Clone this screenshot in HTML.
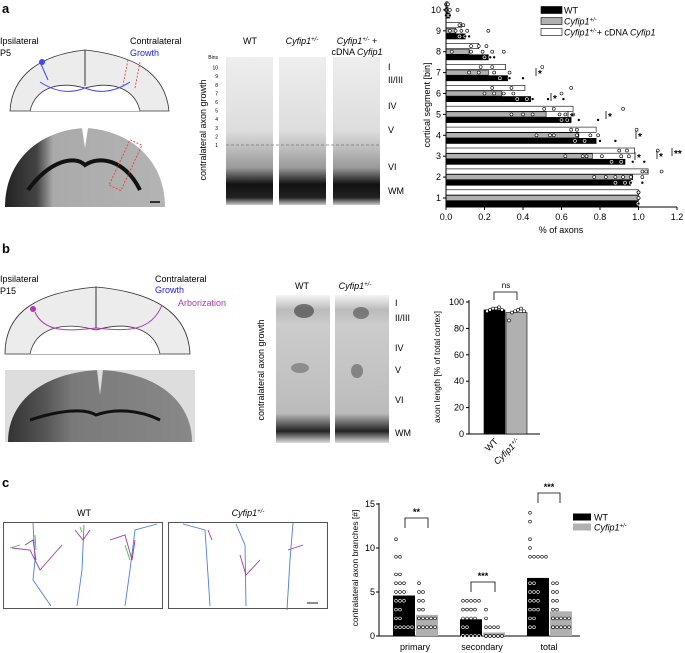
<!DOCTYPE html>
<html><head><meta charset="utf-8"><style>
body{margin:0;background:#fff}
svg{display:block;font-family:"Liberation Sans",Arial,sans-serif}
</style></head><body>
<svg id="fig" width="685" height="653" viewBox="0 0 685 653" xmlns="http://www.w3.org/2000/svg">
<defs>
<linearGradient id="stripA" x1="0" y1="0" x2="0" y2="1">
<stop offset="0" stop-color="#eee"/><stop offset="0.5" stop-color="#ddd"/><stop offset="0.75" stop-color="#999"/><stop offset="0.86" stop-color="#111"/><stop offset="0.95" stop-color="#222"/><stop offset="1" stop-color="#ccc"/></linearGradient>
<linearGradient id="stripB" x1="0" y1="0" x2="0" y2="1">
<stop offset="0" stop-color="#f4f4f4"/><stop offset="0.1" stop-color="#bbb"/><stop offset="0.2" stop-color="#ccc"/><stop offset="0.5" stop-color="#c4c4c4"/><stop offset="0.8" stop-color="#bbb"/><stop offset="0.92" stop-color="#222"/><stop offset="1" stop-color="#ddd"/></linearGradient>
<linearGradient id="photoA" x1="0" y1="0" x2="1" y2="0">
<stop offset="0" stop-color="#222"/><stop offset="0.2" stop-color="#444"/><stop offset="0.3" stop-color="#aaa"/><stop offset="1" stop-color="#b4b4b4"/></linearGradient>
<linearGradient id="photoB" x1="0" y1="0" x2="1" y2="0">
<stop offset="0" stop-color="#333"/><stop offset="0.2" stop-color="#555"/><stop offset="0.35" stop-color="#7a7a7a"/><stop offset="1" stop-color="#888"/></linearGradient>
</defs>

<!-- Panel a -->
<text x="2" y="13" font-size="13" font-weight="bold">a</text>
<text x="0" y="44" font-size="9">Ipsilateral</text>
<text x="0" y="56" font-size="9">P5</text>
<text x="130" y="44" font-size="9">Contralateral</text>
<text x="130" y="56" font-size="9" fill="#2222ee">Growth</text>
<g>
<path d="M10,111 C12,75 40,55 85,50 C130,55 165,70 169,111 Z" fill="#ececec" stroke="#333" stroke-width="0.8"/>
<path d="M30,111 C35,90 55,80 85,88 C115,80 135,90 140,111" fill="#fff" stroke="#333" stroke-width="0.8"/>
<path d="M40,82 C60,95 75,92 85,88 C95,92 110,95 130,82" fill="none" stroke="#44f" stroke-width="1"/>
<line x1="85" y1="50" x2="85" y2="86" stroke="#333" stroke-width="1"/>
<path d="M40,62 L48,80" stroke="#44f" stroke-width="1"/><circle cx="42" cy="62" r="3" fill="#44f"/>
<path d="M128,60 L123,85 M140,62 L135,88" stroke="#e33" stroke-dasharray="2,1.5" stroke-width="0.8"/>
</g>
<path d="M5,207 C5,160 40,130 85,128 C130,130 165,160 165,207 Z" fill="url(#photoA)"/>
<path d="M82,128 L85,148 L88,128 Z" fill="#fff"/>
<path d="M28,190 C50,160 75,155 85,165 C100,155 125,160 140,190" fill="none" stroke="#111" stroke-width="4"/>
<rect x="119" y="140" width="13" height="50" fill="none" stroke="#e33" stroke-dasharray="2,1.5" stroke-width="0.8" transform="rotate(25 125 165)"/>
<line x1="150" y1="202" x2="160" y2="202" stroke="#000" stroke-width="1.5"/>

<text x="250" y="44" font-size="9" text-anchor="middle">WT</text>
<text x="302" y="44" font-size="9" text-anchor="middle" font-style="italic">Cyfip1<tspan font-size="6" dy="-3">+/-</tspan></text>
<text x="357" y="44" font-size="9" text-anchor="middle" font-style="italic">Cyfip1<tspan font-size="6" dy="-3">+/-</tspan><tspan dy="3" font-style="normal"> +</tspan></text>
<text x="357" y="55" font-size="9" text-anchor="middle">cDNA <tspan font-style="italic">Cyfip1</tspan></text>
<rect x="226" y="57" width="47" height="148" fill="url(#stripA)"/>
<rect x="279" y="57" width="47" height="148" fill="url(#stripA)"/>
<rect x="333" y="57" width="47" height="148" fill="url(#stripA)"/>
<line x1="226" y1="145" x2="380" y2="145" stroke="#777" stroke-dasharray="3,2" stroke-width="0.7"/>
<g id="binLabels" font-size="5" text-anchor="end"><text x="218" y="59">Bins</text></g>
<text transform="translate(206,130) rotate(-90)" font-size="9" text-anchor="middle">contralateral axon growth</text>
<g font-size="9">
<text x="388" y="70">I</text><text x="388" y="83">II/III</text><text x="388" y="109">IV</text><text x="388" y="133">V</text><text x="388" y="170">VI</text><text x="388" y="194">WM</text></g>

<g id="chartA"></g>

<!-- Panel b -->
<text x="2" y="253" font-size="13" font-weight="bold">b</text>
<text x="0" y="282" font-size="9">Ipsilateral</text>
<text x="0" y="294" font-size="9">P15</text>
<text x="155" y="282" font-size="9">Contralateral</text>
<text x="155" y="293" font-size="9" fill="#2222ee">Growth</text>
<text x="178" y="306" font-size="9" fill="#b03ab0">Arborization</text>
<g>
<path d="M5,354 C5,310 40,292 96,287 C150,292 188,310 190,354 Z" fill="#ececec" stroke="#333" stroke-width="0.8"/>
<path d="M30,354 C35,330 60,320 96,330 C130,320 155,330 160,354" fill="#fff" stroke="#333" stroke-width="0.8"/>
<path d="M35,312 C45,335 75,330 96,328 C120,330 150,335 162,305" fill="none" stroke="#b03ab0" stroke-width="1"/>
<line x1="96" y1="287" x2="96" y2="328" stroke="#333" stroke-width="1"/>
<circle cx="33" cy="309" r="3" fill="#b03ab0"/>
</g>
<rect x="5" y="370" width="190" height="72" fill="#ddd"/>
<path d="M8,442 C8,400 45,372 100,370 C155,372 192,400 192,442 Z" fill="url(#photoB)"/>
<path d="M97,370 L100,395 L103,370 Z" fill="#ddd"/>
<path d="M30,420 C60,410 85,408 96,415 C115,408 140,410 160,420" fill="none" stroke="#111" stroke-width="3"/>
<text x="302" y="289" font-size="9" text-anchor="middle">WT</text>
<text x="355" y="289" font-size="9" text-anchor="middle" font-style="italic">Cyfip1<tspan font-size="6" dy="-3">+/-</tspan></text>
<rect x="276" y="295" width="54" height="148" fill="url(#stripB)"/>
<rect x="335" y="295" width="54" height="148" fill="url(#stripB)"/>
<ellipse cx="304" cy="311" rx="10" ry="7" fill="#333" opacity="0.6"/><ellipse cx="361" cy="313" rx="8" ry="6" fill="#333" opacity="0.5"/>
<ellipse cx="300" cy="368" rx="9" ry="5" fill="#555" opacity="0.5"/><ellipse cx="357" cy="371" rx="6" ry="7" fill="#444" opacity="0.5"/>
<text transform="translate(264,370) rotate(-90)" font-size="9" text-anchor="middle">contralateral axon growth</text>
<g font-size="9">
<text x="395" y="306">I</text><text x="395" y="321">II/III</text><text x="395" y="351">IV</text><text x="395" y="373">V</text><text x="395" y="403">VI</text><text x="395" y="436">WM</text></g>
<g id="chartB"></g>

<!-- Panel c -->
<text x="2" y="487" font-size="13" font-weight="bold">c</text>
<text x="84" y="516" font-size="9" text-anchor="middle">WT</text>
<text x="248" y="516" font-size="9" text-anchor="middle" font-style="italic">Cyfip1<tspan font-size="6" dy="-3">+/-</tspan></text>
<rect x="3.5" y="522.5" width="159" height="86" fill="#fff" stroke="#555"/>
<rect x="168.5" y="522.5" width="159" height="86" fill="#fff" stroke="#555"/>
<g fill="none" stroke-width="0.9">
<path d="M33,523 L35,560 L33,580 L51,606 M84,525 L82,570 L77,606 M157,524 L135,530 L130,570 L125,606" stroke="#4a7fd4"/>
<path d="M12,548 L30,550 L40,570 L62,545 M25,545 L33,540 L36,560 M75,530 L83,540 L90,530 M110,540 L125,535 L132,560 L135,540" stroke="#a03aa0"/>
<path d="M10,548 L20,545 M35,535 L36,550 M80,527 L82,532 M125,545 L130,560" stroke="#3c3"/>
<path d="M183,524 L205,530 L208,575 L210,606 M236,524 L245,545 L246,606 M293,523 L290,560 L287,610" stroke="#4a7fd4"/>
<path d="M208,530 L212,540 M240,555 L246,575 L260,560 M288,550 L303,545" stroke="#a03aa0"/>
<line x1="307" y1="603" x2="318" y2="603" stroke="#666" stroke-width="1.5"/>
</g>
<g id="chartC"></g>
</svg>
<script>
// ---- Chart A data ----
const binsA = [1,2,3,4,5,6,7,8,9,10];
const wtA = [1.0,0.96,0.93,0.78,0.65,0.44,0.32,0.22,0.10,0.02];
const cyfA = [1.0,0.97,0.76,0.69,0.52,0.29,0.22,0.12,0.05,0.01];
const resA = [1.0,1.05,0.98,0.78,0.66,0.41,0.31,0.17,0.08,0.01];
const wtPts = [[1,1,1],[0.88,0.93,0.96,1.02],[0.86,0.91,0.97,1.03],[0.67,0.72,0.8,0.88],[0.6,0.63,0.69,0.79],[0.37,0.42,0.45,0.53,0.61],[0.28,0.33,0.4],[0.2,0.23,0.25],[0.07,0.1,0.12],[0.0,0.02]];
const cyfPts = [[1,1,1],[0.77,0.83,0.88,0.92,0.96,1.02],[0.62,0.71,0.73,0.81,0.91,0.95],[0.47,0.54,0.56,0.68,0.75,0.79],[0.34,0.4,0.45,0.59,0.62,0.66],[0.2,0.25,0.3,0.35,0.6],[0.12,0.17,0.25,0.33],[0.03,0.13,0.19,0.24,0.3],[0.02,0.05,0.08,0.11,0.22],[0.0,0.02,0.06]];
const resPts = [[1,1,1],[1.02,1.04,1.12],[0.9,0.94,1.1],[0.65,0.68,0.99],[0.51,0.56,0.92],[0.24,0.34,0.65],[0.18,0.24,0.5],[0.13,0.17,0.21],[0.07,0.09],[0.0,0.01]];
const ticksA = ["0.0","0.2","0.4","0.6","0.8","1.0","1.2"];
// ---- Chart B data ----
const groupsB = ["WT","Cyfip1"];
const valuesB = [94,92];
const ptsB = [[93,94,95,95,96,94],[86,92,93,94,95,93]];
const ticksB = [0,20,40,60,80,100];
// ---- Chart C data ----
const catsC = ["primary","secondary","total"];
const wtC = [4.6,1.9,6.6];
const cyfC = [2.4,0.4,2.8];
const wtCpts = [[1,1,1,1,1,2,2,3,3,4,4,4,5,5,5,6,6,6,7,7,9,9,11],[0,0,0,0,0,0,1,1,2,2,2,2,3,3,3,3,4,4,4,4,4],[1,1,2,2,3,3,3,4,4,4,5,5,5,6,6,9,9,9,9,9,10,11,13,14]];
const cyfCpts = [[1,1,1,1,1,1,2,2,2,2,2,2,3,3,4,4,5,5,6],[0,0,0,0,0,0,0,0,0,0,0,1,1,1,1,2,3],[1,1,1,1,1,1,2,2,2,2,2,2,3,3,4,4,5,5,6,6]];
const ticksC = [0,5,10,15];

const NS="http://www.w3.org/2000/svg";
function mk(parent,tag,attrs){const e=document.createElementNS(NS,tag);for(const k in attrs)e.setAttribute(k,attrs[k]);parent.appendChild(e);return e;}

const bl=document.getElementById('binLabels');
binsA.forEach((b,i)=>{const t=mk(bl,'text',{x:218,y:147-(b-1)*8.6});t.textContent=b;

});

// ---- Chart A ----
(function(){
const g=document.getElementById('chartA');
const x0=446, sx=192.5, xs=v=>x0+v*sx;
const yb=b=>198-(b-1)*20.9;
const bh=5.2;
binsA.forEach((b,i)=>{
 const c=yb(b);
 [[resA,-5.6,'#fff',resPts],[cyfA,0,'#b0b0b0',cyfPts],[wtA,5.6,'#000',wtPts]].forEach(([arr,off,fill,pts])=>{
  const r=mk(g,'rect',{x:x0,y:c+off-bh/2,width:arr[i]*sx,height:bh,fill:fill,stroke:'#000','stroke-width':0.6});
  
  
  pts[i].forEach(p=>{const cc=mk(g,'circle',{cx:xs(p),cy:c+off,r:1.5,fill:fill==='#000'?'#000':'#fff',stroke:fill==='#000'?'#fff':'#000','stroke-width':0.6});
   
   });
 });
 const t=mk(g,'text',{x:x0-5,y:c+3,'font-size':9,'text-anchor':'end'});t.textContent=b;
 
 
 mk(g,'line',{x1:x0-3,x2:x0,y1:c,y2:c,stroke:'#000'});
});
mk(g,'line',{x1:x0,x2:x0,y1:3,y2:207,stroke:'#000'});
mk(g,'line',{x1:x0,x2:xs(1.2),y1:207,y2:207,stroke:'#000'});
ticksA.forEach(t=>{const v=parseFloat(t);mk(g,'line',{x1:xs(v),x2:xs(v),y1:207,y2:210,stroke:'#000'});
 const tx=mk(g,'text',{x:xs(v),y:220,'font-size':9,'text-anchor':'middle'});tx.textContent=t;
 
 });
const xt=mk(g,'text',{x:561,y:233,'font-size':9,'text-anchor':'middle'});xt.textContent='% of axons';


const yt=mk(g,'text',{transform:'translate(430,105) rotate(-90)','font-size':9,'text-anchor':'middle'});yt.textContent='cortical segment [bin]';


[[539,75,'*'],[554,100,'*'],[609,118,'*'],[571,118,'*'],[639,138,'*'],[638,159,'*'],[660,158,'*'],[675,155,'**']].forEach(([x,y,s])=>{
 mk(g,'line',{x1:x-3,x2:x-3,y1:y-7,y2:y+1,stroke:'#000','stroke-width':0.8});
 const t=mk(g,'text',{x:x-1,y:y+2,'font-size':10,'font-weight':'bold'});t.textContent=s;
 
 });
[['#000','WT',10,''],['#b0b0b0','Cyfip1',21,'+/-'],['#fff','Cyfip1',32,'+/-']].forEach(([f,l,y,sup],i)=>{
 mk(g,'rect',{x:541,y:y-3.5,width:21,height:7,fill:f,stroke:'#000','stroke-width':0.6});
 const t=mk(g,'text',{x:564,y:y+3.5,'font-size':9,'font-style':i?'italic':'normal'});
 
 
 t.textContent=l;
 if(sup){const s=mk(t,'tspan',{'font-size':6,dy:-3});s.textContent=sup;}
 if(i===2){const a=mk(t,'tspan',{dy:3,'font-style':'normal'});a.textContent='+ cDNA ';const b=mk(t,'tspan',{});b.textContent='Cyfip1';}
});
})();

// ---- Chart B ----
(function(){
const g=document.getElementById('chartB');
const y0=434, sy=1.32, ys=v=>y0-v*sy;
const xs=[484,506], bw=21;
mk(g,'line',{x1:469,x2:469,y1:300,y2:y0,stroke:'#000'});
mk(g,'line',{x1:469,x2:540,y1:y0,y2:y0,stroke:'#000'});
ticksB.forEach(t=>{mk(g,'line',{x1:466,x2:469,y1:ys(t),y2:ys(t),stroke:'#000'});
 const tx=mk(g,'text',{x:464,y:ys(t)+3,'font-size':9,'text-anchor':'end'});tx.textContent=t;
 
 });
groupsB.forEach((gname,i)=>{
 const r=mk(g,'rect',{x:xs[i],y:ys(valuesB[i]),width:bw,height:valuesB[i]*sy,fill:i?'#b0b0b0':'#000',stroke:'#000','stroke-width':0.6});
 
 
 ptsB[i].forEach((p,j)=>{const c=mk(g,'circle',{cx:xs[i]+3+j*3,cy:ys(p),r:1.5,fill:'#fff',stroke:'#000','stroke-width':0.6});
  
  });
 const t=mk(g,'text',{transform:`translate(${xs[i]+bw/2+4},${y0+8}) rotate(-45)`,'font-size':9,'text-anchor':'end','font-style':i?'italic':'normal'});
 t.textContent=gname; if(i){const s=mk(t,'tspan',{'font-size':6,dy:-3});s.textContent='+/-';}
 
 
});
mk(g,'path',{d:'M494,300 L494,292 L517,292 L517,300',fill:'none',stroke:'#000','stroke-width':0.8});
const ns=mk(g,'text',{x:506,y:288,'font-size':8,'text-anchor':'middle'});ns.textContent='ns';


const yt=mk(g,'text',{transform:'translate(440,367) rotate(-90)','font-size':8.5,'text-anchor':'middle'});yt.textContent='axon length [% of total cortex]';


})();

// ---- Chart C ----
(function(){
const g=document.getElementById('chartC');
const y0=636, sy=8.8, ys=v=>y0-v*sy;
const wx=[393,460,527], bw=22;
mk(g,'line',{x1:379,x2:379,y1:503,y2:y0,stroke:'#000'});
mk(g,'line',{x1:379,x2:580,y1:y0,y2:y0,stroke:'#000'});
ticksC.forEach(t=>{mk(g,'line',{x1:376,x2:379,y1:ys(t),y2:ys(t),stroke:'#000'});
 const tx=mk(g,'text',{x:375,y:ys(t)+3,'font-size':9,'text-anchor':'end'});tx.textContent=t;
 
 });
catsC.forEach((c,i)=>{
 [[wtC,wtCpts,0,'#000'],[cyfC,cyfCpts,bw+1,'#b0b0b0']].forEach(([arr,pts,off,f])=>{
  const x=wx[i]+off;
  const r=mk(g,'rect',{x:x,y:ys(arr[i]),width:bw,height:arr[i]*sy,fill:f});
  
  
  const counts={};
  pts[i].forEach(p=>{counts[p]=(counts[p]||0);const k=counts[p]++;
   const cc=mk(g,'circle',{cx:x+3+(k%5)*4,cy:ys(p),r:1.4,fill:(f==='#000'&&p<arr[i])?'#000':'#fff',stroke:(f==='#000'&&p<arr[i])?'#fff':'#000','stroke-width':0.6});
   
   });
 });
 const t=mk(g,'text',{x:wx[i]+bw,y:650,'font-size':9,'text-anchor':'middle'});t.textContent=c;
 
 
});
[[405,428,518,'**'],[471,495,582,'***'],[538,560,493,'***']].forEach(([a,b,y,s])=>{
 mk(g,'path',{d:`M${a},${y+10} L${a},${y} L${b},${y} L${b},${y+10}`,fill:'none',stroke:'#000','stroke-width':0.8});
 const t=mk(g,'text',{x:(a+b)/2,y:y-3,'font-size':9,'font-weight':'bold','text-anchor':'middle'});t.textContent=s;
 
 });
const yt=mk(g,'text',{transform:'translate(358,568) rotate(-90)','font-size':8.5,'text-anchor':'middle'});yt.textContent='contralateral axon branches [#]';


[['#000','WT',517],['#b0b0b0','Cyfip1',527]].forEach(([f,l,y],i)=>{
 mk(g,'rect',{x:573,y:y-3.5,width:18,height:7,fill:f});
 const t=mk(g,'text',{x:594,y:y+3.5,'font-size':9,'font-style':i?'italic':'normal'});t.textContent=l;
 if(i){const s=mk(t,'tspan',{'font-size':6,dy:-3});s.textContent='+/-';}
 
 
});
})();
</script>
</body></html>
